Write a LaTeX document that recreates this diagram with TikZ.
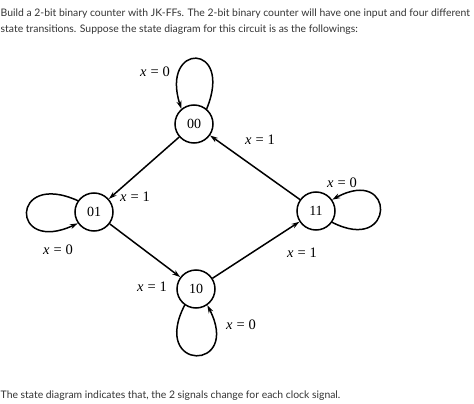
\documentclass[tikz,border=0pt]{standalone}
\usepackage{fontspec}
\setmainfont{Lato}
\newfontfamily\diagfont{Liberation Serif}
\usetikzlibrary{arrows.meta}
\definecolor{txtgray}{HTML}{333333}
\tikzset{
  state/.style={circle, draw, line width=1.5pt, minimum size=38pt, inner sep=0pt, font=\diagfont\fontsize{14}{14}\selectfont},
  lbl/.style={font=\diagfont\fontsize{14.5}{15}\selectfont, inner sep=0pt},
  edge/.style={line width=1.5pt, -{Stealth[length=8pt,width=5pt]}},
  para/.style={font=\fontsize{10.4}{12}\selectfont, text=txtgray, inner sep=0pt, anchor=west}
}
\newcommand{\xeq}[1]{{\itshape x}\hspace{0.28em}=\hspace{0.28em}#1}
\begin{document}
\begin{tikzpicture}[x=1pt,y=-1pt]
\useasboundingbox (0,0) rectangle (474,404);
\node[para] (t1) at (0.5,14) {Build a 2-bit binary counter with JK-FFs. The 2-bit binary counter will have one input and four different};
\node[para] (t2) at (0.5,30) {state transitions. Suppose the state diagram for this circuit is as the followings:};
\node[para] (t3) at (0.5,396) {The state diagram indicates that, the 2 signals change for each clock signal.};

\node[state] (s00) at (194,124) {00};
\node[state] (s01) at (94,212) {01};
\node[state] (s11) at (316,211) {11};
\node[state] (s10) at (196,289) {10};

\draw[edge] (s00) -- (s01);
\draw[edge] (s01) -- (s10);
\draw[edge] (s10) -- (s11);
\draw[edge] (s11) -- (s00);

\draw[edge] (s00.50) .. controls (234,42) and (160,42) .. (s00.130);
\draw[edge] (s01.145) .. controls (10,170) and (10,255) .. (s01.215);
\draw[edge] (s11.-35) .. controls (396,255) and (396,165) .. (s11.35);
\draw[edge] (s10.-125) .. controls (150,372) and (242,372) .. (s10.-55);

\node[lbl] (l1) at (155,72) {\xeq{0}};
\node[lbl] (l2) at (260,140) {\xeq{1}};
\node[lbl] (l3) at (135,197) {\xeq{1}};
\node[lbl] (l4) at (58,250) {\xeq{0}};
\node[lbl] (l5) at (342,183) {\xeq{0}};
\node[lbl] (l6) at (302,253) {\xeq{1}};
\node[lbl] (l7) at (152,287) {\xeq{1}};
\node[lbl] (l8) at (241,325) {\xeq{0}};
\end{tikzpicture}
\end{document}
